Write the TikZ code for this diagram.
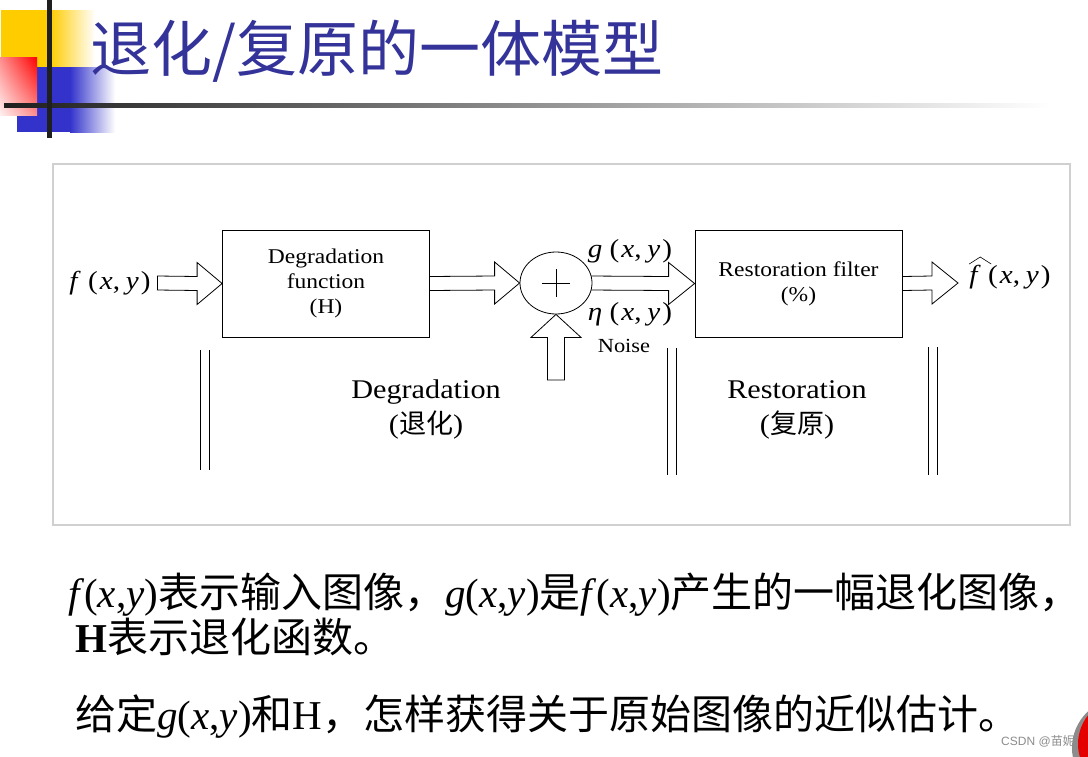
\documentclass[tikz,border=0pt]{standalone}
\usepackage{fontspec}
\setmainfont{Liberation Serif}
\newfontfamily\cjk{Noto Sans CJK SC}
\newfontfamily\dg{Liberation Serif}[FakeStretch=1.12]
\newfontfamily\wm{Liberation Sans}
\usetikzlibrary{shapes.geometric,calc,backgrounds,shadings}
\definecolor{titleblue}{RGB}{51,51,153}
\definecolor{decoyellow}{RGB}{255,204,0}
\definecolor{decoblue}{RGB}{51,51,204}
\definecolor{framegray}{RGB}{208,208,208}
\newcommand\harrow[3]{%
  \draw[arr] ($(#1)+(0,-7)$) -- ($(#2)+(-#3,-7)$) -- ($(#2)+(-#3,-21)$) -- (#2)
    -- ($(#2)+(-#3,21)$) -- ($(#2)+(-#3,7)$) -- ($(#1)+(0,7)$);}
\newcommand\fxy[1]{#1\hspace{0.28em}(\hspace{0.08em}\textit{x},\hspace{0.22em}\textit{y}\hspace{0.08em})}
\begin{document}
\begin{tikzpicture}[x=1pt,y=-1pt,
  arr/.style={draw=black,line width=0.8pt,line join=miter},
  blk/.style={draw=black,line width=0.8pt,minimum width=207,minimum height=107,inner sep=0pt,align=center,
    font=\dg\fontsize{21}{25}\selectfont},
  lbl/.style={inner sep=0pt,font=\dg\fontsize{26}{30}\selectfont},
  big/.style={inner sep=0pt,align=center,font=\dg\fontsize{27}{35}\selectfont},
  body/.style={inner sep=0pt,anchor=base west,font=\fontsize{41}{48}\selectfont},
  dline/.style={draw=black,line width=0.8pt}]
\clip (0,0) rectangle (1088,756);
% decoration
\fill[decoyellow] (1,10) rectangle (50,67);
\shade[left color=decoyellow,right color=white] (50,10) rectangle (95,67);
\fill[decoblue] (17,67) rectangle (70,132);
\shade[left color=decoblue,right color=white] (70,67) rectangle (115,132);
\shade[upper right=red,lower left=red!6,upper left=red!45,lower right=red!45] (0,57) rectangle (37,115);
\shade[left color=black!88,middle color=black!24,right color=white] (4,103) rectangle (1050,107);
\fill[black!88] (47,0) rectangle (52,138);
% title
\node[inner sep=0pt,anchor=base west,text=titleblue,font=\cjk\fontsize{61}{70}\selectfont] (title) at (90,71) {退化/复原的一体模型};
% frame
\draw[framegray,line width=1.5pt] (53,164) rectangle (1070,525);
% blocks
\node[blk] (deg) at (326,283.5) {Degradation\\function\\(H)};
\node[blk] (rst) at (798.5,283.5) {Restoration filter\\(\%)};
\node[draw=black,line width=0.8pt,ellipse,minimum width=72,minimum height=62,inner sep=0pt,fill=white] (sum) at (556,283) {};
\draw[line width=0.8pt] ($(sum.center)+(-14,0)$) -- ($(sum.center)+(14,0)$);
\draw[line width=0.8pt] ($(sum.center)+(0,-14)$) -- ($(sum.center)+(0,14)$);
% labels
\node[lbl] (fx) at (110,283) {\fxy{\textit{f}}};
\coordinate (ain) at (157,283);
\coordinate (aout) at (958,283);
\coordinate (nz) at (556,380);
\node[lbl] (gxy) at (630,251) {\fxy{\textit{g}}};
\node[lbl] (nxy) at (630,314) {\fxy{\textit{η}}};
\node[inner sep=0pt,font=\dg\fontsize{20}{24}\selectfont] (noise) at (624,346) {Noise};
\node[lbl] (fhat) at (1010,277) {\fxy{\textit{f}}};
\draw[line width=0.6pt] ($(fhat.west)+(0,-13)$) -- ($(fhat.west)+(11,-20)$) -- ($(fhat.west)+(22,-13)$);
\node[big] (degl) at (426,409.5) {Degradation\\({\cjk 退化})};
\node[big] (rstl) at (797,409.5) {Restoration\\({\cjk 复原})};
% arrows
\begin{scope}[on background layer]
\fill[white] (0,0) rectangle (1088,756);
\harrow{ain}{deg.west}{25}
\draw[arr] ($(ain)+(0,-7)$) -- ($(ain)+(0,7)$);
\harrow{deg.east}{sum.west}{25}
\harrow{$(sum.east)+(-4,0)$}{rst.west}{26}
\harrow{rst.east}{aout}{26}
\draw[arr] ($(nz)+(-8.5,0)$) -- ($(sum.south)+(-8.5,23)$) -- ($(sum.south)+(-25,23)$) -- (sum.south)
  -- ($(sum.south)+(25,23)$) -- ($(sum.south)+(8.5,23)$) -- ($(nz)+(8.5,0)$) -- cycle;
\end{scope}
% double vertical lines
\draw[dline] (200,350) -- (200,470);
\draw[dline] (209,350) -- (209,470);
\draw[dline] (667,348) -- (667,475);
\draw[dline] (676,348) -- (676,475);
\draw[dline] (928,347) -- (928,475);
\draw[dline] (937,347) -- (937,475);
% body text
\node[body] (t1) at (68,607) {\textit{f}(\textit{x},\textit{y}){\cjk 表示输入图像，}\textit{g}(\textit{x},\textit{y}){\cjk 是}\textit{f}(\textit{x},\textit{y}){\cjk 产生的一幅退化图像，}};
\node[body] (t2) at (75,652) {\textbf{H}{\cjk 表示退化函数。}};
\node[body] (t3) at (75,729) {{\cjk 给定}\textit{g}(\textit{x},\textit{y}){\cjk 和}H{\cjk ，怎样获得关于原始图像的近似估计。}};
% watermark and corner ball
\node[inner sep=0pt,text=black!45,font=\wm\fontsize{12}{14}\selectfont] (wmark) at (1038,741) {CSDN @{\cjk 苗妮}};
\fill[black!45] (1122,748) circle (50);
\fill[red!90!black] (1124,744) circle (46);
\end{tikzpicture}
\end{document}
